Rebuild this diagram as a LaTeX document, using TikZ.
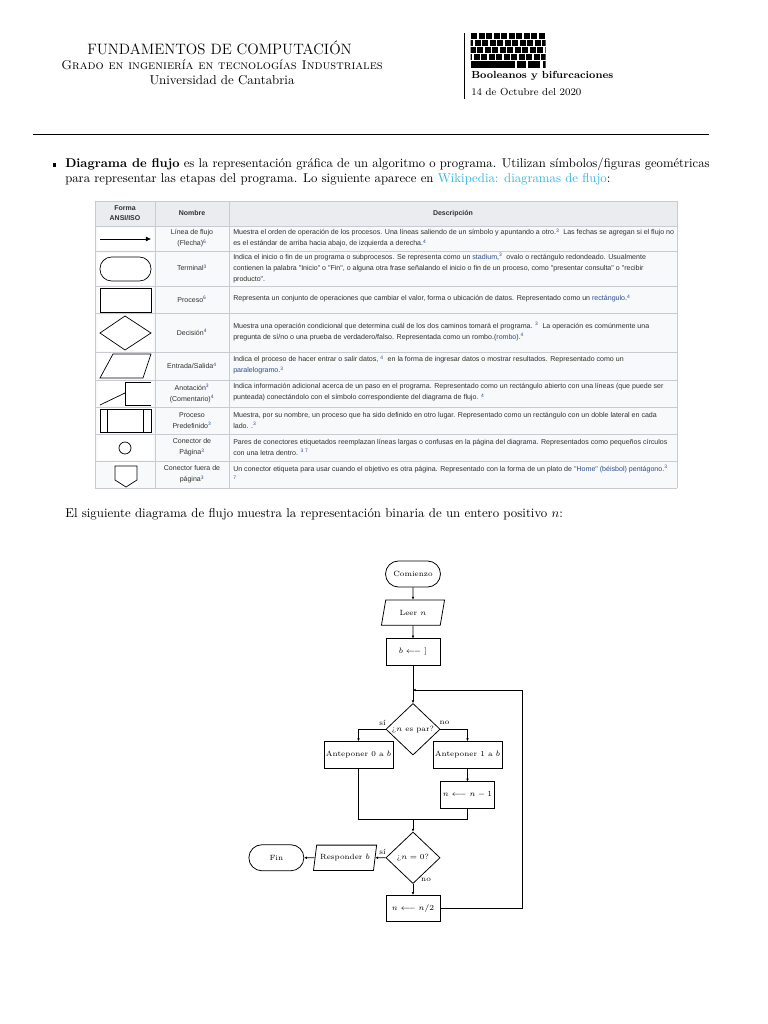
\documentclass[tikz,border=0pt]{standalone}
\usepackage{xcolor}
\usepackage{amsmath}
\usepackage{fontspec}
\usepackage{tikz}
\usetikzlibrary{positioning, arrows.meta, shapes.geometric, shapes.misc}
\newfontfamily\wikifont{Liberation Sans}
\definecolor{wikiblue}{HTML}{2A4B8D}
\definecolor{linkcyan}{HTML}{35B5E0}
\definecolor{headgray}{HTML}{EAECF0}
\definecolor{rowgray}{HTML}{F8F9FA}
\definecolor{gridgray}{HTML}{C8CCD1}
\definecolor{wikitext}{HTML}{303030}
\newcommand{\refmark}[1]{\textsuperscript{\textcolor{wikiblue}{#1}}}
\newcommand{\wikilink}[1]{\textcolor{wikiblue}{#1}}

\begin{document}
\begin{tikzpicture}[
    x=0.775pt, y=-0.775pt,
    pagetext/.style={inner sep=0pt, anchor=base west, font=\fontsize{9.82}{12}\selectfont},
    headtext/.style={inner sep=0pt, anchor=base, align=center},
    namecell/.style={inner sep=0pt, align=center, text=wikitext, font=\wikifont\fontsize{5.45}{8.5}\selectfont},
    desccell/.style={inner sep=0pt, anchor=west, align=left, text=wikitext, font=\wikifont\fontsize{5.47}{8.5}\selectfont},
    headcell/.style={inner sep=0pt, align=center, font=\wikifont\bfseries\fontsize{5.4}{7.8}\selectfont, text=wikitext},
    symbol/.style={draw=black, line width=0.55pt},
    flowbox/.style={draw, line width=0.6pt, font=\fontsize{5.85}{7.5}\selectfont, align=center, inner sep=0pt},
    termbox/.style={flowbox, rounded rectangle, minimum width=42.6pt, minimum height=20.2pt},
    procbox/.style={flowbox, rectangle, minimum width=42pt, minimum height=20.6pt},
    iobox/.style={flowbox, trapezium, trapezium left angle=68, trapezium right angle=112, trapezium stretches=true, minimum width=49pt, minimum height=19.6pt},
    testbox/.style={flowbox, diamond, minimum width=42pt, minimum height=40pt},
    flow/.style={draw, line width=0.6pt, -{Latex[length=2pt, width=2pt]}},
    plain/.style={draw, line width=0.6pt},
    branchlabel/.style={inner sep=0pt, font=\fontsize{5.85}{7.5}\selectfont}
]
\useasboundingbox (0,0) rectangle (768,1024);
\fill[white] (0,0) rectangle (768,1024);

% page header
\node[headtext, font=\fontsize{11.65}{13}\selectfont] (course) at (219.5,54) {FUNDAMENTOS DE COMPUTACIÓN};
\node[headtext, font=\fontsize{9.9}{12}\selectfont] (degree) at (222,69) {\textsc{Grado en ingeniería en tecnologías Industriales}};
\node[headtext] (school) at (222,84) {Universidad de Cantabria};
\draw[line width=0.7pt] (464,33) -- (464,99);
\begin{scope}
\clip (470.5,33) rectangle (545.5,68);
\foreach \ytop/\shift in {33/0,40/-4,47/-1.5,54/-5}
    \foreach \col in {0,...,10}
        \fill (471+\shift+\col*7.5,\ytop) rectangle (477.4+\shift+\col*7.5,\ytop+5.8);
\fill (470.5,61) rectangle (515,67.5);
\fill (517,61) rectangle (526,67.5);
\fill (528,61) rectangle (540,67.5);
\fill (543,61) rectangle (545.5,67.5);
\end{scope}
\node[pagetext, font=\fontsize{7.97}{10}\bfseries\selectfont] (topic) at (471,78) {Booleanos y bifurcaciones};
\node[pagetext, font=\fontsize{7.9}{10}\selectfont] (date) at (471,95) {14 de Octubre del 2020};
\draw[line width=0.7pt] (33,134) -- (709,134);

% intro
\fill (52.5,163) rectangle (56,166.5);
\node[pagetext] (introa) at (65,167) {\textbf{Diagrama de flujo} es la representación gráfica de un algoritmo o programa. Utilizan símbolos/figuras geométricas};
\node[pagetext, font=\fontsize{9.9}{12}\selectfont] (introb) at (65,182) {para representar las etapas del programa. Lo siguiente aparece en \textcolor{linkcyan}{Wikipedia: diagramas de flujo}:};

% table
\fill[headgray] (95,201) rectangle (677,226);
\fill[rowgray] (95,226) rectangle (677,488);
\foreach \yline in {201,226,251,286,313,352,380,407,434,461,488}
    \draw[gridgray, line width=0.5pt] (95,\yline) -- (677,\yline);
\foreach \xline in {95,155,229,677}
    \draw[gridgray, line width=0.5pt] (\xline,201) -- (\xline,488);
\fill[white] (98,228) rectangle (153,250);
\fill[white] (98,253) rectangle (153,285);
\fill[white] (98,287) rectangle (153,312);
\fill[white] (98,315) rectangle (153,351);
\fill[white] (98,353) rectangle (153,379);
\fill[white] (98,381) rectangle (153,406);
\fill[white] (98,408) rectangle (153,433);
\fill[white] (98,435) rectangle (153,460);
\fill[white] (113,462) rectangle (138,487);

\node[headcell] (formahead) at (125,213.5) {Forma\\ANSI/ISO};
\node[headcell] (namehead) at (192,213.5) {Nombre};
\node[headcell] (deschead) at (453,213.5) {Descripción};

\node[namecell] (namea) at (192,238.5) {Línea de flujo\\(Flecha)\refmark{6}};
\node[namecell] (nameb) at (192,268) {Terminal\refmark{3}};
\node[namecell] (namec) at (192,299.5) {Proceso\refmark{6}};
\node[namecell] (named) at (192,332.5) {Decisión\refmark{4}};
\node[namecell] (namee) at (192,366) {Entrada/Salida\refmark{4}};
\node[namecell] (namef) at (192,393.5) {Anotación\refmark{3}\\(Comentario)\refmark{4}};
\node[namecell] (nameg) at (192,420.5) {Proceso\\Predefinido\refmark{3}};
\node[namecell] (nameh) at (192,447.5) {Conector de\\Página\refmark{3}};
\node[namecell] (namei) at (192,474.5) {Conector fuera de\\página\refmark{3}};

\node[desccell] (desca) at (233,238) {Muestra el orden de operación de los procesos. Una líneas saliendo de un símbolo y apuntando a otro.\refmark{3} \ Las fechas se agregan si el flujo no\\es el estándar de arriba hacia abajo, de izquierda a derecha.\refmark{4}};
\node[desccell] (descb) at (233,268) {Indica el inicio o fin de un programa o subprocesos. Se representa como un \wikilink{stadium},\refmark{3} \ ovalo o rectángulo redondeado. Usualmente\\contienen la palabra "Inicio" o "Fin", o alguna otra frase señalando el inicio o fin de un proceso, como "presentar consulta" o "recibir\\producto".};
\node[desccell] (descc) at (233,298.5) {Representa un conjunto de operaciones que cambiar el valor, forma o ubicación de datos. Representado como un \wikilink{rectángulo}.\refmark{4}};
\node[desccell] (descd) at (233,331.5) {Muestra una operación condicional que determina cuál de los dos caminos tomará el programa. \refmark{3} \ La operación es comúnmente una\\pregunta de sí/no o una prueba de verdadero/falso. Representada como un rombo.(\wikilink{rombo}).\refmark{4}};
\node[desccell] (desce) at (233,365) {Indica el proceso de hacer entrar o salir datos, \refmark{4} \ en la forma de ingresar datos o mostrar resultados. Representado como un\\\wikilink{paralelogramo}.\refmark{3}};
\node[desccell] (descf) at (233,392.5) {Indica información adicional acerca de un paso en el programa. Representado como un rectángulo abierto con una líneas (que puede ser\\punteada) conectándolo con el símbolo correspondiente del diagrama de flujo. \refmark{4}};
\node[desccell] (descg) at (233,420) {Muestra, por su nombre, un proceso que ha sido definido en otro lugar. Representado como un rectángulo con un doble lateral en cada\\lado. .\refmark{3}};
\node[desccell] (desch) at (233,447) {Pares de conectores etiquetados reemplazan líneas largas o confusas en la página del diagrama. Representados como pequeños círculos\\con una letra dentro. \refmark{3}\,\refmark{7}};
\node[desccell] (desci) at (233,473.5) {Un conector etiqueta para usar cuando el objetivo es otra página. Representado con la forma de un plato de \wikilink{"Home" (béisbol) pentágono}.\refmark{3}\\\refmark{7}};

% table symbols
\draw[symbol, -{Latex[length=4pt, width=4pt]}] (100,239) -- (151,239);
\draw[symbol, rounded corners=9pt] (100,257) rectangle (151,281);
\draw[symbol] (100,288) rectangle (151,312);
\draw[symbol] (100,333) -- (125,316) -- (151,333) -- (125,350) -- cycle;
\draw[symbol] (100,378) -- (113,354) -- (151,354) -- (143,378) -- cycle;
\draw[symbol] (151,382) -- (125,382) -- (125,405) -- (151,405);
\draw[symbol] (100,405) -- (125,393);
\draw[symbol] (100,409) rectangle (151,432);
\draw[symbol] (107,409) -- (107,432);
\draw[symbol] (143,409) -- (143,432);
\draw[symbol] (125,448) circle (6);
\draw[symbol] (115,466) -- (137,466) -- (137,480) -- (126,487) -- (115,480) -- cycle;

\node[pagetext, font=\fontsize{9.95}{12}\selectfont] (lead) at (65,517) {El siguiente diagrama de flujo muestra la representación binaria de un entero positivo $n$:};

% flowchart
\node[termbox] (start) at (413,574) {Comienzo};
\node[iobox, below=9.4pt of start] (read) {Leer $n$};
\node[procbox, below=9.8pt of read] (init) {$b\longleftarrow$ ]};
\node[testbox, below=29pt of init] (parity) {¿$n$ es par?};
\coordinate (zeroup) at (358.5,741);
\coordinate (oneup) at (467.5,741);
\node[procbox, minimum width=53.5pt, anchor=north] (zero) at (zeroup) {Anteponer 0 a $b$};
\node[procbox, minimum width=53.5pt, anchor=north] (one) at (oneup) {Anteponer 1 a $b$};
\node[procbox, below=10pt of one] (dec) {$n\longleftarrow n-1$};
\node[testbox, below=59pt of parity] (iszero) {¿$n=0$?};
\node[procbox, below=8.4pt of iszero] (halve) {$n\longleftarrow n/2$};
\node[iobox, left=7.8pt of iszero] (answer) {Responder $b$};
\node[termbox, left=8.1pt of answer] (stop) {Fin};

\coordinate (join) at (413,690);
\coordinate (corner) at (522.5,690);
\coordinate (merge) at (413,819);

\draw[flow] (start) -- (read);
\draw[flow] (read) -- (init);
\draw[flow] (init) -- (parity);
\draw[flow] (parity.west) -| (zero.north);
\draw[flow] (parity.east) -| (one.north);
\draw[flow] (one) -- (dec);
\draw[plain] (zero.south) |- (merge);
\draw[plain] (dec.south) |- (merge);
\draw[flow] (merge) -- (iszero);
\draw[flow] (iszero) -- (halve);
\draw[flow] (iszero) -- (answer);
\draw[flow] (answer) -- (stop);
\draw[flow] (halve.east) -| (corner) -- (join);

\node[branchlabel] (parityyes) at (382.5,723) {sí};
\node[branchlabel] (parityno) at (444.5,723) {no};
\node[branchlabel] (zeroyes) at (382.5,852) {sí};
\node[branchlabel] (zerono) at (426,880) {no};
\end{tikzpicture}
\end{document}
